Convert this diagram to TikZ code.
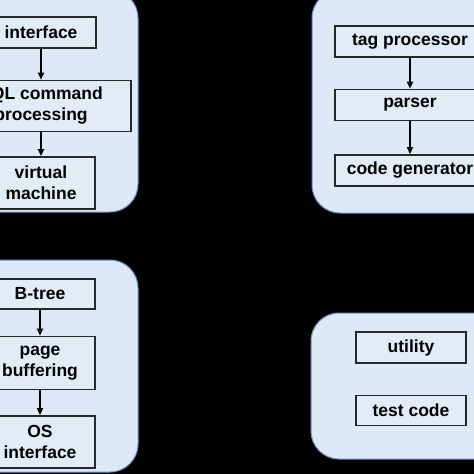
\documentclass[tikz,border=0pt]{standalone}
\usepackage{fontspec}
\setmainfont{Liberation Sans}
\usetikzlibrary{positioning,arrows.meta}
\definecolor{panelfill}{RGB}{221,233,246}
\definecolor{paneledge}{RGB}{110,145,195}
\definecolor{boxfill}{RGB}{225,236,247}
\definecolor{boxedge}{RGB}{40,40,40}
\begin{document}
\begin{tikzpicture}[x=1pt,y=-1pt,>={Triangle[length=7pt,width=6pt]}]
 \tikzstyle{panel}=[draw=paneledge,fill=panelfill,rounded corners=28pt,line width=1pt]
 \tikzstyle{blk}=[rectangle,draw=boxedge,fill=boxfill,line width=1.4pt,inner sep=0,align=center,font=\fontsize{17.5}{21}\selectfont\bfseries]
 \tikzstyle{link}=[->,line width=1.6pt,black]
 \useasboundingbox[fill=black] (0,0) rectangle (474,474);
 \clip (0,0) rectangle (474,474);
 % panels
 \draw[panel] (-200,-10) rectangle (138,212);
 \draw[panel] (312,-10) rectangle (650,213);
 \draw[panel] (-200,260) rectangle (138,472);
 \draw[panel] (311,313) rectangle (650,459);
 % top left
  \node[blk, minimum width=110pt, minimum height=31pt] (iface) at (41,32.5) {interface};
  \node[blk, minimum width=180pt, minimum height=51pt] (sqlproc) [below=31pt of iface] {SQL command\\processing};
  \node[blk, minimum width=108pt, minimum height=52pt] (vm) [below=24pt of sqlproc] {virtual\\machine};
 % top right
  \node[blk, minimum width=150pt, minimum height=31pt] (tagp) at (410,41.5) {tag processor};
  \node[blk, minimum width=150pt, minimum height=31pt] (parser) [below=31pt of tagp] {parser};
  \node[blk, minimum width=150pt, minimum height=31pt] (codegen) [below=33pt of parser] {code generator};
 % bottom left
  \node[blk, minimum width=110pt, minimum height=30pt] (btree) at (40,294) {B-tree};
  \node[blk, minimum width=110pt, minimum height=53pt] (pagebuf) [below=26pt of btree] {page\\buffering};
  \node[blk, minimum width=110pt, minimum height=52pt] (osif) [below=25pt of pagebuf] {OS\\interface};
 % bottom right
  \node[blk, minimum width=110pt, minimum height=31pt] (util) at (411,347.5) {utility};
  \node[blk, minimum width=110pt, minimum height=30pt] (testc) [below=31pt of util] {test code};
\draw[link] (iface) -- (sqlproc) ;
\draw[link] (sqlproc) -- (vm) ;
\draw[link] (tagp) -- (parser) ;
\draw[link] (parser) -- (codegen) ;
\draw[link] (btree) -- (pagebuf) ;
\draw[link] (pagebuf) -- (osif) ;
\end{tikzpicture}
\end{document}
